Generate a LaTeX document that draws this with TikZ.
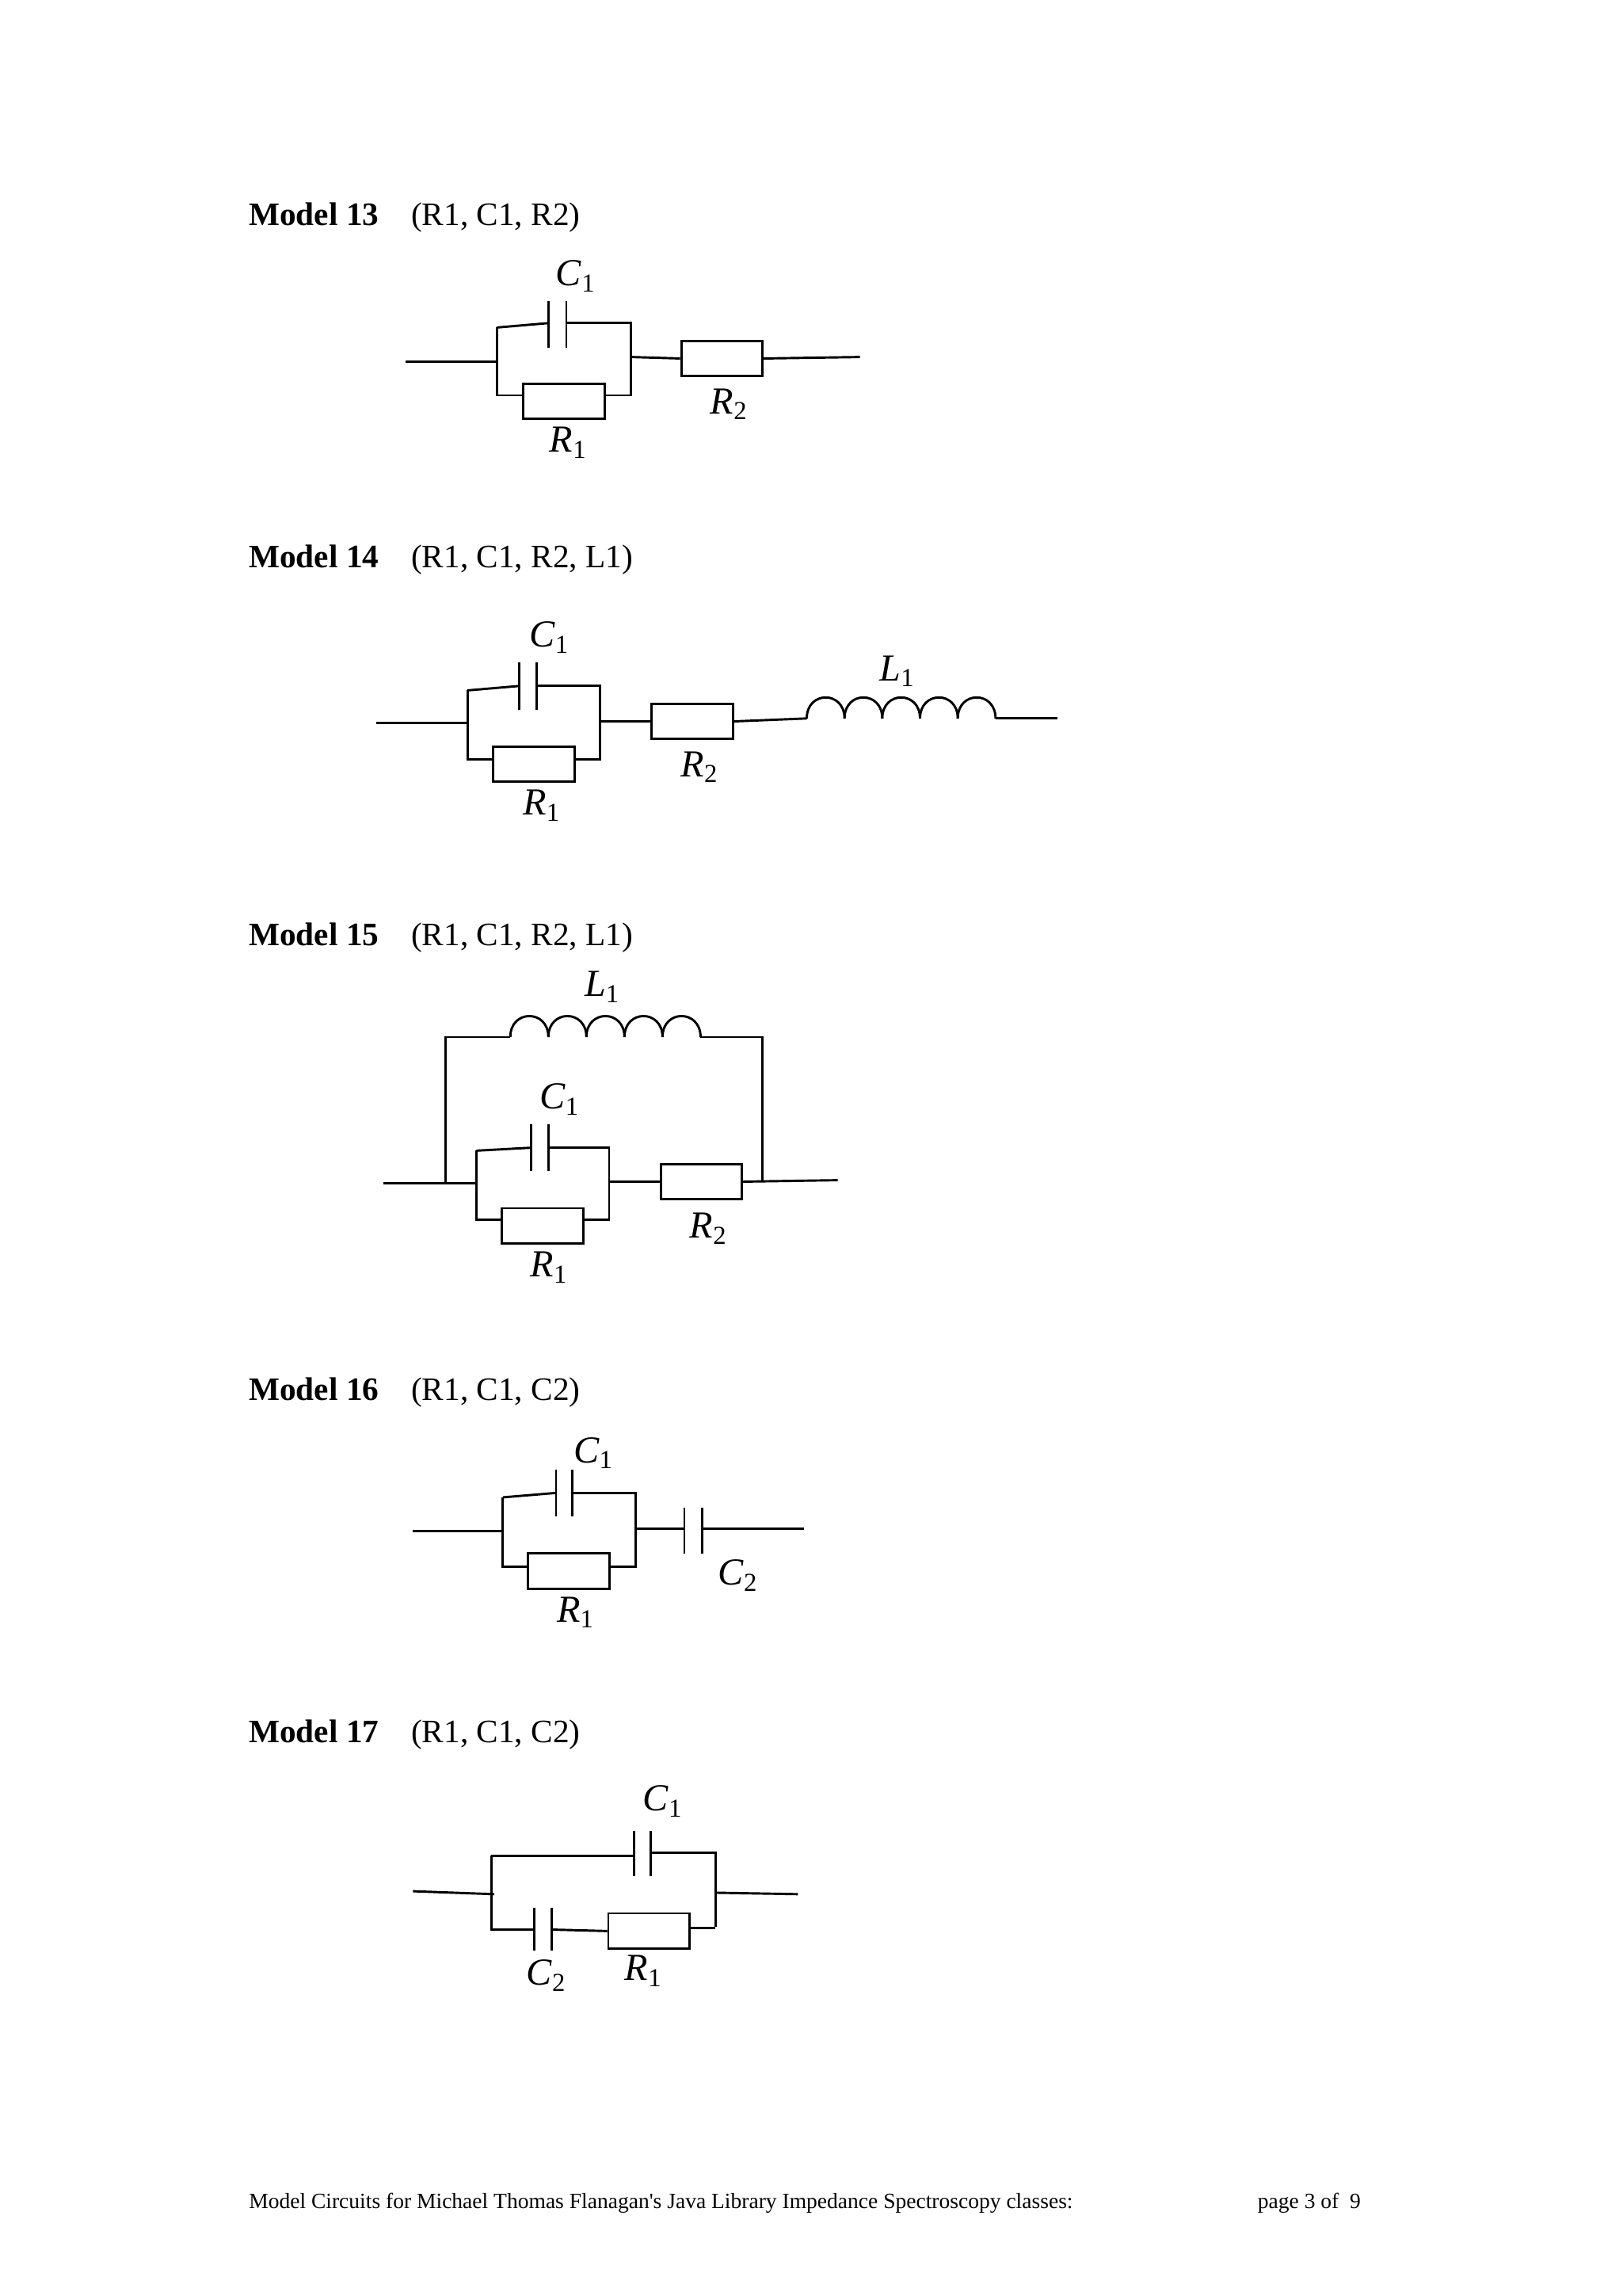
\documentclass[tikz,border=0pt]{standalone}
\usepackage{fontspec}
\setmainfont{Liberation Serif}
\begin{document}
\begin{tikzpicture}[x=0.541pt,y=-0.541pt,line width=0.85pt,
  res/.style={draw,rectangle,inner sep=0pt,minimum width=29.8pt,minimum height=13pt},
  lab/.style={inner sep=0pt,font=\fontsize{14}{14}\selectfont},
  head/.style={anchor=base west,inner sep=0pt,font=\fontsize{12}{14}\selectfont},
  foot/.style={anchor=base west,inner sep=0pt,font=\fontsize{8}{10}\selectfont}]
\useasboundingbox (0,0) rectangle (1100,1556.4);
\newcommand{\lbl}[2]{\textit{#1}\raisebox{-0.35ex}{\fontsize{9.5}{10}\selectfont #2}}
\newcommand{\coil}[3]{% x0, y, width per hump
  \foreach \k in {0,...,4}{\draw (#1+\k*#3,#2) .. controls (#1+\k*#3,#2-19) and (#1+\k*#3+#3,#2-19) .. (#1+\k*#3+#3,#2);}}
% ---------------- Model 13
\node[head] (h13) at (168,153) {\textbf{Model 13}};
\node[head] (t13) at (278,153) {(R1, C1, R2)};
\coordinate (a13l) at (275,245);
\coordinate (a13v) at (337,245);
\node[res] (r13a) at (382.5,272) {};
\node[res] (r13b) at (489.5,243) {};
\draw (a13l) -- (a13v);
\draw (337,222) -- (337,268) -- (r13a.west |- 0,268);
\draw (r13a.east |- 0,268) -- (428,268) -- (428,219) -- (384,219);
\draw (337,222) -- (372,219);
\draw (372,204) -- (372,236) (384,204) -- (384,236);
\draw (428,242) -- (r13b.west);
\draw (r13b.east) -- (583,242);
\node[lab] (c13) at (390,187) {\lbl{C}{1}};
\node[lab] (l13a) at (385,300) {\lbl{R}{1}};
\node[lab] (l13b) at (494,274) {\lbl{R}{2}};
% ---------------- Model 14
\node[head] (h14) at (168,385) {\textbf{Model 14}};
\node[head] (t14) at (278,385) {(R1, C1, R2, L1)};
\node[res] (r14a) at (362,518) {};
\node[res] (r14b) at (469.5,489) {};
\draw (255,490) -- (317,490);
\draw (317,468) -- (317,515) -- (r14a.west |- 0,515);
\draw (r14a.east |- 0,515) -- (407,515) -- (407,465) -- (364,465);
\draw (317,468) -- (352,465);
\draw (352,449) -- (352,481) (364,449) -- (364,481);
\draw (407,489) -- (r14b.west);
\draw (r14b.east) -- (547,487);
\coil{547}{487}{25.6}
\draw (675,487) -- (717,487);
\node[lab] (c14) at (372,432) {\lbl{C}{1}};
\node[lab] (l14a) at (367,546) {\lbl{R}{1}};
\node[lab] (l14b) at (474,520) {\lbl{R}{2}};
\node[lab] (l14c) at (608,455) {\lbl{L}{1}};
% ---------------- Model 15
\node[head] (h15) at (168,641) {\textbf{Model 15}};
\node[head] (t15) at (278,641) {(R1, C1, R2, L1)};
\node[res] (r15a) at (368,831) {};
\node[res] (r15b) at (475.5,801) {};
\draw (260,802) -- (323,802);
\draw (302,802) -- (302,703) -- (346,703);
\coil{346}{703}{25.8}
\draw (475,703) -- (517,703) -- (517,800);
\draw (323,780) -- (323,827) -- (r15a.west |- 0,827);
\draw (r15a.east |- 0,827) -- (413,827) -- (413,778) -- (372,778);
\draw (323,780) -- (360,778);
\draw (360,762) -- (360,794) (372,762) -- (372,794);
\draw (413,801) -- (r15b.west);
\draw (r15b.east) -- (568,800);
\node[lab] (l15c) at (408,669) {\lbl{L}{1}};
\node[lab] (c15) at (379,745) {\lbl{C}{1}};
\node[lab] (l15a) at (372,859) {\lbl{R}{1}};
\node[lab] (l15b) at (480,833) {\lbl{R}{2}};
% ---------------- Model 16
\node[head] (h16) at (168,949) {\textbf{Model 16}};
\node[head] (t16) at (278,949) {(R1, C1, C2)};
\node[res] (r16a) at (385.5,1065) {};
\draw (280,1038) -- (341,1038);
\draw (341,1015) -- (341,1062) -- (r16a.west |- 0,1062);
\draw (r16a.east |- 0,1062) -- (431,1062) -- (431,1012) -- (388,1012);
\draw (341,1015) -- (377,1012);
\draw (377,996) -- (377,1028) (388,996) -- (388,1028);
\draw (431,1036) -- (464,1036);
\draw (464,1022) -- (464,1053) (476,1022) -- (476,1053);
\draw (476,1036) -- (545,1036);
\node[lab] (c16) at (402,985) {\lbl{C}{1}};
\node[lab] (l16a) at (390,1093) {\lbl{R}{1}};
\node[lab] (c16b) at (500,1068) {\lbl{C}{2}};
% ---------------- Model 17
\node[head] (h17) at (168,1181) {\textbf{Model 17}};
\node[head] (t17) at (278,1181) {(R1, C1, C2)};
\node[res] (r17a) at (440,1309) {};
\draw (280,1282) -- (335,1284);
\draw (333,1258) -- (333,1308) -- (362,1308);
\draw (333,1258) -- (430,1258);
\draw (430,1241) -- (430,1272) (441,1241) -- (441,1272);
\draw (441,1256) -- (485,1256) -- (485,1306);
\draw (485,1283) -- (541,1284);
\draw (362,1293) -- (362,1322) (374,1293) -- (374,1322);
\draw (374,1308) -- (r17a.west);
\draw (r17a.east |- 0,1307) -- (485,1307);
\node[lab] (c17) at (449,1221) {\lbl{C}{1}};
\node[lab] (c17b) at (370,1339) {\lbl{C}{2}};
\node[lab] (l17a) at (436,1336) {\lbl{R}{1}};
% ---------------- footer
\node[foot] (f1) at (168,1497) {Model Circuits for Michael Thomas Flanagan\textquotesingle s Java Library Impedance Spectroscopy classes:};
\node[foot] (f2) at (852,1497) {page 3 of~ 9};
\end{tikzpicture}
\end{document}
